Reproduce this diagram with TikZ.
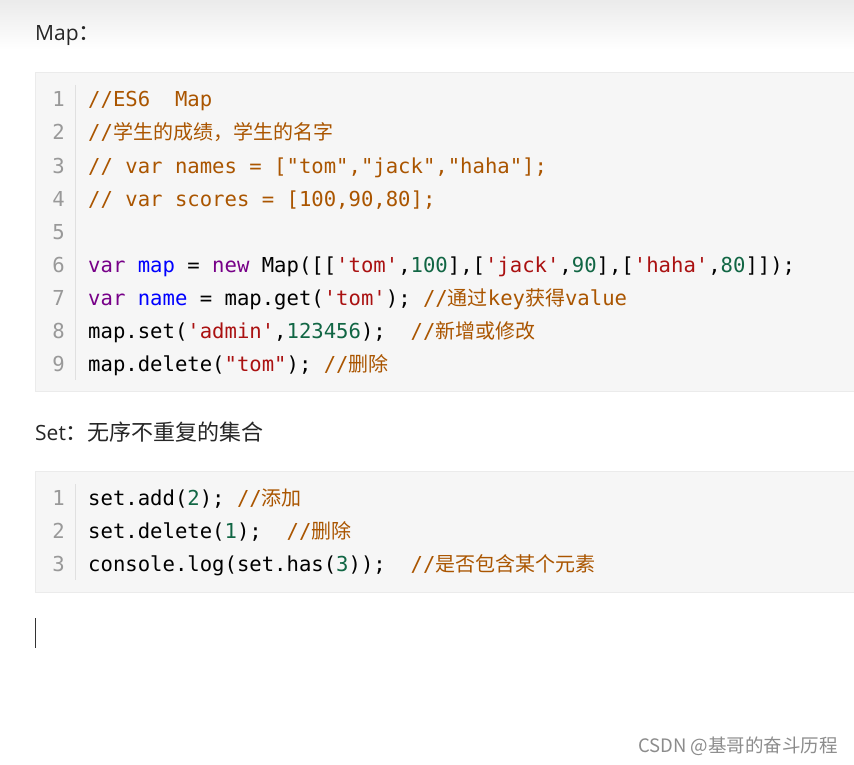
\documentclass[tikz,border=0pt]{standalone}
\usepackage{fontspec}
\setmainfont{Open Sans}
\setmonofont{DejaVu Sans Mono}
\newfontfamily\zh{Noto Sans CJK SC}
\definecolor{cm}{HTML}{AA5500}
\definecolor{kw}{HTML}{770088}
\definecolor{vr}{HTML}{0000FF}
\definecolor{st}{HTML}{AA1111}
\definecolor{nm}{HTML}{116644}
\definecolor{ln}{HTML}{999999}
\newcommand{\C}[1]{\textcolor{cm}{#1}}
\newcommand{\K}[1]{\textcolor{kw}{#1}}
\newcommand{\V}[1]{\textcolor{vr}{#1}}
\newcommand{\Sx}[1]{\textcolor{st}{#1}}
\newcommand{\N}[1]{\textcolor{nm}{#1}}
\newcommand{\Z}[1]{{\zh\fontsize{20}{20}\selectfont #1}}
\newcommand{\ZH}[1]{{\zh\fontsize{22}{24}\selectfont #1}}
\begin{document}
\begin{tikzpicture}[x=1pt,y=-1pt,
  code/.style={anchor=base west,inner sep=0pt,font=\ttfamily\fontsize{20.6}{22}\selectfont,text=black},
  lnum/.style={anchor=base east,inner sep=0pt,font=\ttfamily\fontsize{20.6}{22}\selectfont,text=ln},
  block/.style={fill=black!3.5,draw=black!8}]
\useasboundingbox (0,0) rectangle (854,765);
\fill[white] (0,0) rectangle (854,765);
\shade[top color=black!8,bottom color=white] (0,0) rectangle (854,50);
\node[anchor=base west,inner sep=0pt,font=\fontsize{21}{24}\selectfont,text=black!85] (t1) at (35,41) {Map\ZH{：}};
\draw[block] (35,72) rectangle (860,391);
\draw[black!12] (75,85) -- (75,380);
\foreach \i in {1,...,9} \node[lnum] (n\i) at (65,{107+33*(\i-1)}) {\i};
\node[code] (c1) at (88,107) {\C{//ES6\ \ Map}};
\node[code] (c2) at (88,140) {\C{//\Z{学生的成绩，学生的名字}}};
\node[code] (c3) at (88,173) {\C{// var names = ["tom","jack","haha"];}};
\node[code] (c4) at (88,206) {\C{// var scores = [100,90,80];}};
\node[code] (c6) at (88,272) {\K{var} \V{map} = \K{new} Map([[\Sx{'tom'},\N{100}],[\Sx{'jack'},\N{90}],[\Sx{'haha'},\N{80}]]);};
\node[code] (c7) at (88,305) {\K{var} \V{name} = map.get(\Sx{'tom'}); \C{//\Z{通过}key\Z{获得}value}};
\node[code] (c8) at (88,338) {map.set(\Sx{'admin'},\N{123456});\ \ \C{//\Z{新增或修改}}};
\node[code] (c9) at (88,371) {map.delete(\Sx{"tom"}); \C{//\Z{删除}}};
\node[anchor=base west,inner sep=0pt,font=\fontsize{21}{24}\selectfont,text=black!85] (t2) at (35,440) {Set\ZH{：无序不重复的集合}};
\draw[block] (35,471) rectangle (860,592);
\draw[black!12] (75,484) -- (75,580);
\foreach \i in {1,...,3} \node[lnum] (m\i) at (65,{505+33*(\i-1)}) {\i};
\node[code] (d1) at (88,505) {set.add(\N{2}); \C{//\Z{添加}}};
\node[code] (d2) at (88,538) {set.delete(\N{1});\ \ \C{//\Z{删除}}};
\node[code] (d3) at (88,571) {console.log(set.has(\N{3}));\ \ \C{//\Z{是否包含某个元素}}};
\draw[black!80] (35,618) -- (35,648);
\node[anchor=base east,inner sep=0pt,font=\zh\fontsize{18.5}{20}\selectfont,text=black!45] (w) at (838,752) {CSDN @基哥的奋斗历程};
\end{tikzpicture}
\end{document}
